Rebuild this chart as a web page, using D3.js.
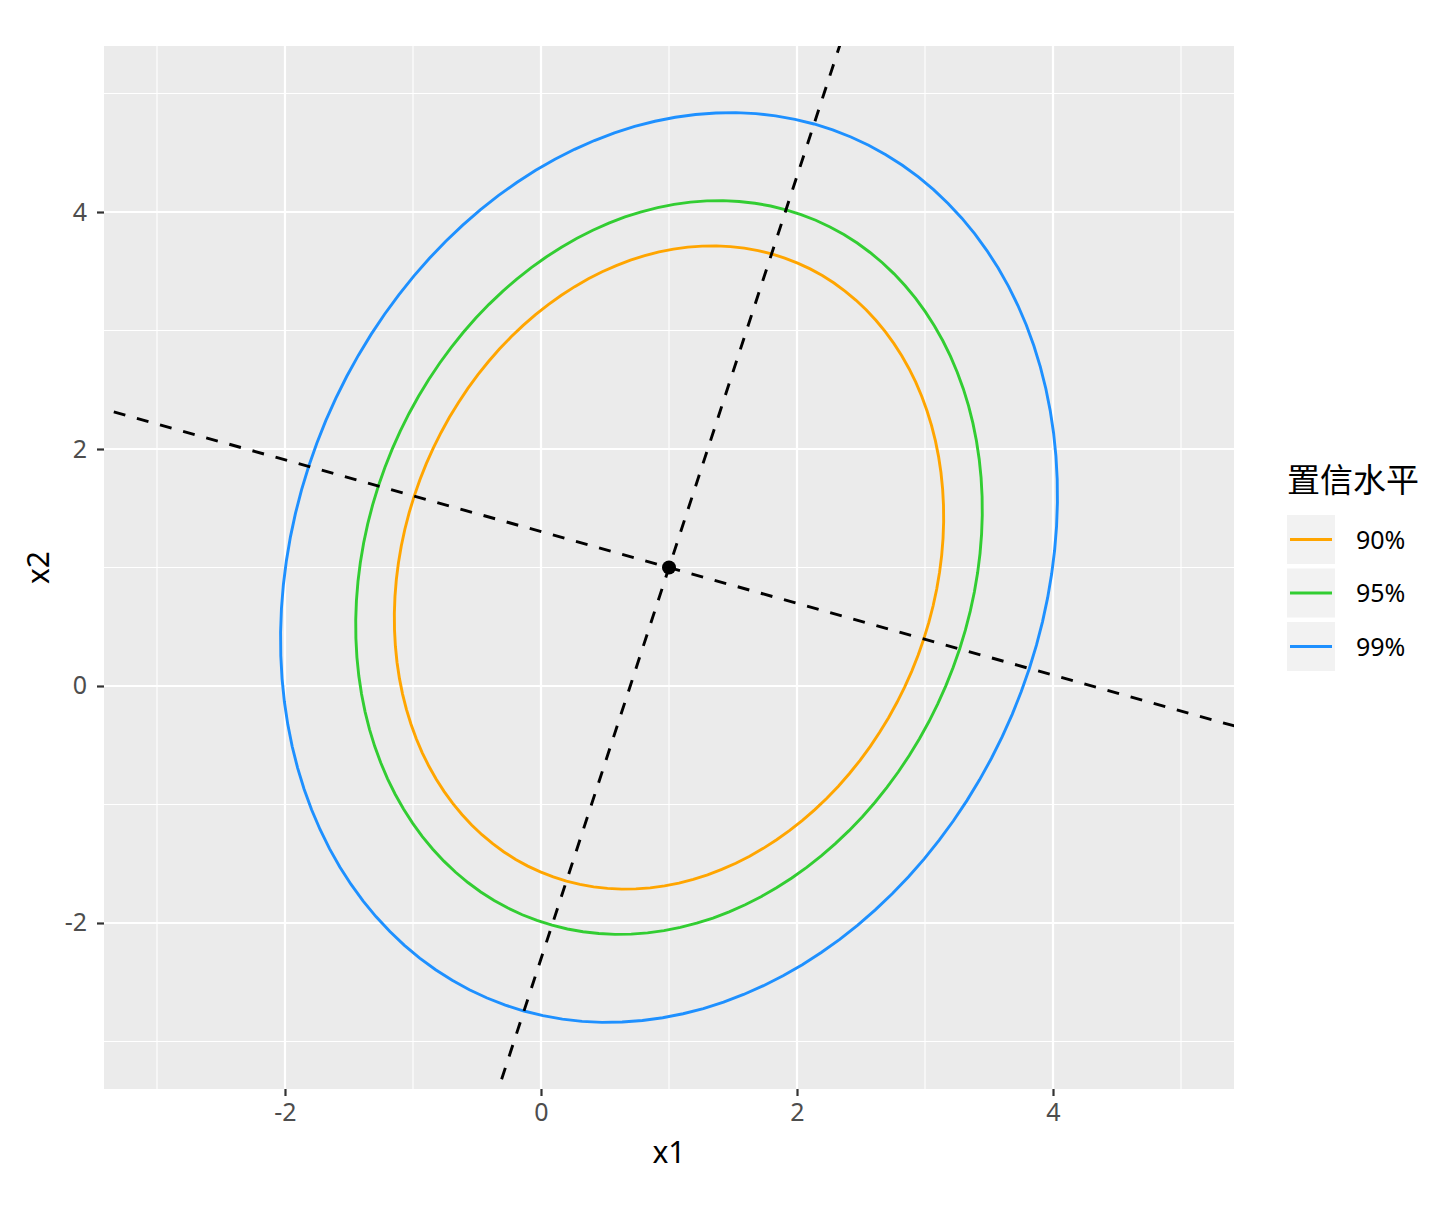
<!DOCTYPE html>
<html>
<head>
<meta charset="utf-8">
<script src="https://cdn.jsdelivr.net/npm/d3@7"></script>
<style>
body{margin:0;background:#fff;}
text{font-family:"Noto Sans","Noto Sans CJK SC",sans-serif;}
</style>
</head>
<body>
<svg id="vis" width="1446" height="1212"></svg>
<script>
// mean vector and covariance of (x1, x2)
var center = [1, 1];
var sigma = [[1.0, 0.2], [0.2, 1.6]];

// confidence levels and chi-square(2) quantiles
var levels = ['90%', '95%', '99%'];
var chisq = [4.605, 5.991, 9.210];
var levelColors = ['#FFA500', '#32CD32', '#1E90FF'];

var xDomain = [-3.414, 5.414];
var yDomain = [-3.401, 5.401];
var majorTicks = [-2, 0, 2, 4];
var minorTicks = [-3, -1, 1, 3, 5];

window.onload = function(){

	return {

		left:104,
		right:1234,
		top:46,
		bottom:1089,

		n_pts:120,

		eigen:function(m){
			var a = m[0][0], b = m[0][1], d = m[1][1];
			var mid = (a +d)/2,
				r = Math.sqrt((a -d)*(a -d)/4 +b*b);
			return [mid +r, mid -r].map(function(l){
				var vx = b, vy = l -a,
					len = Math.sqrt(vx*vx +vy*vy);
				return {val:l, vec:[vx/len, vy/len]};
			});
		},
		generate:function(){
			var self = this;
			var svg = d3.select('#vis');

			var x = d3.scaleLinear().domain(xDomain).range([self.left, self.right]),
				y = d3.scaleLinear().domain(yDomain).range([self.bottom, self.top]);

			var eig = self.eigen(sigma);

			svg.append('clipPath').attr('id','panel-clip')
				.append('rect')
				.attr('x',self.left).attr('y',self.top)
				.attr('width',self.right -self.left)
				.attr('height',self.bottom -self.top);

			svg.append('rect')
				.attr('x',self.left).attr('y',self.top)
				.attr('width',self.right -self.left)
				.attr('height',self.bottom -self.top)
				.attr('fill','#EBEBEB');

			var grid = svg.append('g').attr('class','grid');
			grid.selectAll('line.vminor')
				.data(minorTicks).enter().append('line')
				.attr('x1',function(d){ return x(d); })
				.attr('x2',function(d){ return x(d); })
				.attr('y1',self.top).attr('y2',self.bottom)
				.attr('stroke','#fff').attr('stroke-width',1.1);
			grid.selectAll('line.hminor')
				.data(minorTicks).enter().append('line')
				.attr('y1',function(d){ return y(d); })
				.attr('y2',function(d){ return y(d); })
				.attr('x1',self.left).attr('x2',self.right)
				.attr('stroke','#fff').attr('stroke-width',1.1);
			grid.selectAll('line.vmajor')
				.data(majorTicks).enter().append('line')
				.attr('x1',function(d){ return x(d); })
				.attr('x2',function(d){ return x(d); })
				.attr('y1',self.top).attr('y2',self.bottom)
				.attr('stroke','#fff').attr('stroke-width',2.2);
			grid.selectAll('line.hmajor')
				.data(majorTicks).enter().append('line')
				.attr('y1',function(d){ return y(d); })
				.attr('y2',function(d){ return y(d); })
				.attr('x1',self.left).attr('x2',self.right)
				.attr('stroke','#fff').attr('stroke-width',2.2);

			var plot = svg.append('g').attr('clip-path','url(#panel-clip)');

			var line = d3.line()
				.x(function(d){ return x(d[0]); })
				.y(function(d){ return y(d[1]); })
				.curve(d3.curveLinearClosed);

			var ellipses = chisq.map(function(c){
				return d3.range(self.n_pts).map(function(i){
					var t = 2*Math.PI*i/self.n_pts,
						a = Math.sqrt(c*eig[0].val)*Math.cos(t),
						b = Math.sqrt(c*eig[1].val)*Math.sin(t);
					return [
						center[0] +a*eig[0].vec[0] +b*eig[1].vec[0],
						center[1] +a*eig[0].vec[1] +b*eig[1].vec[1]
					];
				});
			});

			plot.selectAll('path.ellipse')
				.data(ellipses).enter().append('path')
				.classed('ellipse',true)
				.attr('d',line)
				.attr('fill','none')
				.attr('stroke',function(d,i){ return levelColors[i]; })
				.attr('stroke-width',2.9);

			// principal axes through the centre
			plot.selectAll('line.axis-dir')
				.data(eig).enter().append('line')
				.classed('axis-dir',true)
				.each(function(d){
					var s = 20,
						p0 = [center[0] -s*d.vec[0], center[1] -s*d.vec[1]],
						p1 = [center[0] +s*d.vec[0], center[1] +s*d.vec[1]];
					d3.select(this)
						.attr('x1',x(p0[0])).attr('y1',y(p0[1]))
						.attr('x2',x(p1[0])).attr('y2',y(p1[1]));
				})
				.attr('stroke','#000')
				.attr('stroke-width',2.9)
				.attr('stroke-dasharray','12,12');

			plot.append('circle')
				.attr('cx',x(center[0]))
				.attr('cy',y(center[1]))
				.attr('r',7)
				.attr('fill','#000');

			var fmt = function(d){ return String(d); };
			var xAxis = svg.append('g')
				.attr('transform','translate(0,' +self.bottom +')')
				.call(d3.axisBottom(x).tickValues(majorTicks).tickFormat(fmt).tickSize(7).tickPadding(7));
			var yAxis = svg.append('g')
				.attr('transform','translate(' +self.left +',0)')
				.call(d3.axisLeft(y).tickValues(majorTicks).tickFormat(fmt).tickSize(7).tickPadding(10));
			[xAxis, yAxis].forEach(function(g){
				g.select('.domain').remove();
				g.selectAll('.tick line').attr('stroke','#333').attr('stroke-width',2.2);
				g.selectAll('.tick text')
					.attr('fill','#4D4D4D')
					.style('font-size','25px')
					.style('font-family','"Noto Sans",sans-serif');
			});

			svg.append('text')
				.attr('x',(self.left +self.right)/2)
				.attr('y',1163)
				.attr('text-anchor','middle')
				.style('font-size','30px')
				.text('x1');
			svg.append('text')
				.attr('transform','translate(49,' +(self.top +self.bottom)/2 +') rotate(-90)')
				.attr('text-anchor','middle')
				.style('font-size','30px')
				.text('x2');

			var legend = svg.append('g').attr('transform','translate(1287,0)');
			legend.append('text')
				.attr('x',0).attr('y',492)
				.style('font-size','33px')
				.style('font-family','"Noto Sans CJK SC",sans-serif')
				.text('置信水平');
			var keys = legend.selectAll('g.key')
				.data(levels).enter().append('g')
				.classed('key',true)
				.attr('transform',function(d,i){ return 'translate(0,' +(515 +i*53.5) +')'; });
			keys.append('rect')
				.attr('width',48).attr('height',49)
				.attr('fill','#F2F2F2');
			keys.append('line')
				.attr('x1',3).attr('x2',45)
				.attr('y1',24.5).attr('y2',24.5)
				.attr('stroke',function(d,i){ return levelColors[i]; })
				.attr('stroke-width',3);
			keys.append('text')
				.attr('x',69).attr('y',24.5)
				.attr('dy','0.36em')
				.style('font-size','25px')
				.text(function(d){ return d; });
		}
	}
}().generate();
</script>
</body>
</html>
